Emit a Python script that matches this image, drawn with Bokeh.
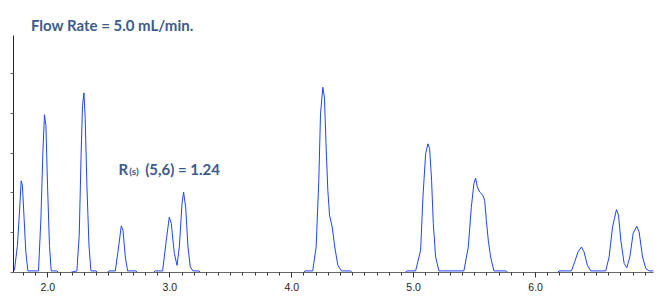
from bokeh.plotting import figure
from bokeh.models import Range1d, SingleIntervalTicker, FixedTicker, Label, ColumnDataSource
from bokeh.embed import file_html
from bokeh.resources import INLINE

# Retention time (min) and detector signal (arbitrary units, 1 unit = one y tick)
time_min = [
    1.718, 1.726, 1.750, 1.767, 1.781, 1.791, 1.805, 1.819, 1.836, 1.915,
    1.923, 1.943, 1.959, 1.972, 1.984, 1.997, 2.013, 2.027, 2.074, 2.087, 2.183,
    2.238, 2.257, 2.273, 2.284, 2.296, 2.306, 2.320, 2.337, 2.353, 2.395, 2.405, 2.487, 2.500,
    2.553, 2.580, 2.602, 2.616, 2.635, 2.654, 2.722, 2.734, 2.866, 2.880,
    2.941, 2.971, 2.996, 3.012, 3.037, 3.059, 3.078, 3.100, 3.113, 3.130, 3.149, 3.168, 3.190,
    3.240, 3.250, 4.096, 4.110,
    4.172, 4.200, 4.222, 4.236, 4.255, 4.268, 4.282, 4.296, 4.310, 4.332, 4.353, 4.378, 4.408,
    4.482, 4.495, 4.930, 4.945,
    5.016, 5.057, 5.076, 5.098, 5.117, 5.131, 5.147, 5.161, 5.180, 5.207,
    5.412, 5.448, 5.473, 5.494, 5.508, 5.522, 5.541, 5.568, 5.582, 5.596, 5.612, 5.631, 5.658,
    5.760, 5.771, 6.181, 6.192,
    6.294, 6.321, 6.348, 6.376, 6.397, 6.425, 6.452,
    6.575, 6.603, 6.631, 6.663, 6.680, 6.699, 6.726, 6.748, 6.773, 6.800, 6.830, 6.849,
    6.877, 6.904, 6.931, 6.967,
]
signal = [
    0.06, 0.06, 0.68, 1.52, 2.30, 2.19, 1.36, 0.52, 0.04, 0.04,
    0.04, 1.36, 3.02, 3.96, 3.69, 2.19, 0.68, 0.04, 0.04, 0.00, 0.00,
    0.04, 0.93, 3.02, 4.19, 4.51, 3.87, 2.19, 0.68, 0.04, 0.04, 0.00, 0.00, 0.04,
    0.04, 0.64, 1.17, 1.06, 0.39, 0.04, 0.04, 0.00, 0.00, 0.04,
    0.04, 0.81, 1.39, 1.23, 0.48, 0.18, 0.64, 1.73, 2.02, 1.64, 0.64, 0.14, 0.04,
    0.04, 0.00, 0.00, 0.04,
    0.04, 0.64, 2.31, 3.98, 4.65, 4.40, 3.15, 2.06, 1.44, 1.14, 0.64, 0.18, 0.04,
    0.04, 0.00, 0.00, 0.04,
    0.04, 0.56, 1.89, 2.98, 3.23, 3.11, 2.31, 1.23, 0.39, 0.04,
    0.04, 0.64, 1.64, 2.23, 2.37, 2.15, 2.02, 1.94, 1.81, 1.31, 0.81, 0.39, 0.04,
    0.04, 0.00, 0.00, 0.04,
    0.04, 0.27, 0.52, 0.64, 0.52, 0.18, 0.04,
    0.04, 0.39, 1.14, 1.58, 1.44, 0.81, 0.23, 0.12, 0.39, 0.98, 1.16, 1.02,
    0.39, 0.10, 0.04, 0.04,
]

x_ticks = [2.0, 3.0, 4.0, 5.0, 6.0]
x_tick_labels = ["2.0", "3.0", "4.0", "5.0", "6.0"]
y_ticks = [0, 1, 2, 3, 4, 5]

title_text = "Flow Rate = 5.0 mL/min."
res_main = "R"
res_sub = "(s)"
res_rest = "(5,6) = 1.24"

source = ColumnDataSource(data=dict(t=time_min, s=signal))

title_color = "#3b5b8c"

p = figure(width=663, height=300, output_backend="svg", toolbar_location=None,
           x_range=Range1d(1.718, 6.967), y_range=Range1d(0, 5.95),
           min_border_left=13, min_border_right=10, min_border_top=35,
           min_border_bottom=28, title=title_text)
p.background_fill_color = "white"
p.border_fill_color = "white"
p.outline_line_color = None
p.xgrid.visible = False
p.ygrid.visible = False

p.title.align = "left"
p.title.offset = 17.5
p.title.standoff = 4
p.title.text_font = "Lato"
p.title.text_font_size = "15px"
p.title.text_font_style = "bold"
p.title.text_color = title_color

p.line("t", "s", source=source, line_color="#1f45f5", line_width=1.0)

xa = p.xaxis[0]
xa.ticker = SingleIntervalTicker(interval=1.0, num_minor_ticks=10)
xa.major_label_overrides = {t: l for t, l in zip(x_ticks, x_tick_labels)}
xa.axis_line_color = "#666666"
xa.major_tick_line_color = "#333333"
xa.minor_tick_line_color = "#333333"
xa.major_tick_in = 0
xa.major_tick_out = 5
xa.minor_tick_in = 0
xa.minor_tick_out = 3
xa.major_label_standoff = 5
xa.major_label_text_font = "Liberation Sans"
xa.major_label_text_font_size = "10.5px"
xa.major_label_text_color = "#222222"

ya = p.yaxis[0]
ya.ticker = FixedTicker(ticks=y_ticks)
ya.major_label_overrides = {t: "" for t in y_ticks}
ya.axis_line_color = "#222222"
ya.major_tick_line_color = "#666666"
ya.major_tick_in = 0
ya.major_tick_out = 3
ya.minor_tick_line_color = None
ya.major_label_standoff = 0

p.add_layout(Label(x=105, y=104, x_units="screen", y_units="screen", text=res_main,
                   text_font="Lato", text_font_size="15px", text_font_style="bold",
                   text_color=title_color, text_baseline="alphabetic"))
p.add_layout(Label(x=115.7, y=102, x_units="screen", y_units="screen", text=res_sub,
                   text_font="Lato", text_font_size="10px", text_font_style="bold",
                   text_color=title_color, text_baseline="alphabetic"))
p.add_layout(Label(x=131.7, y=104, x_units="screen", y_units="screen", text=res_rest,
                   text_font="Lato", text_font_size="15px", text_font_style="bold",
                   text_color=title_color, text_baseline="alphabetic"))

open("out.html", "w").write(file_html(p, INLINE))
